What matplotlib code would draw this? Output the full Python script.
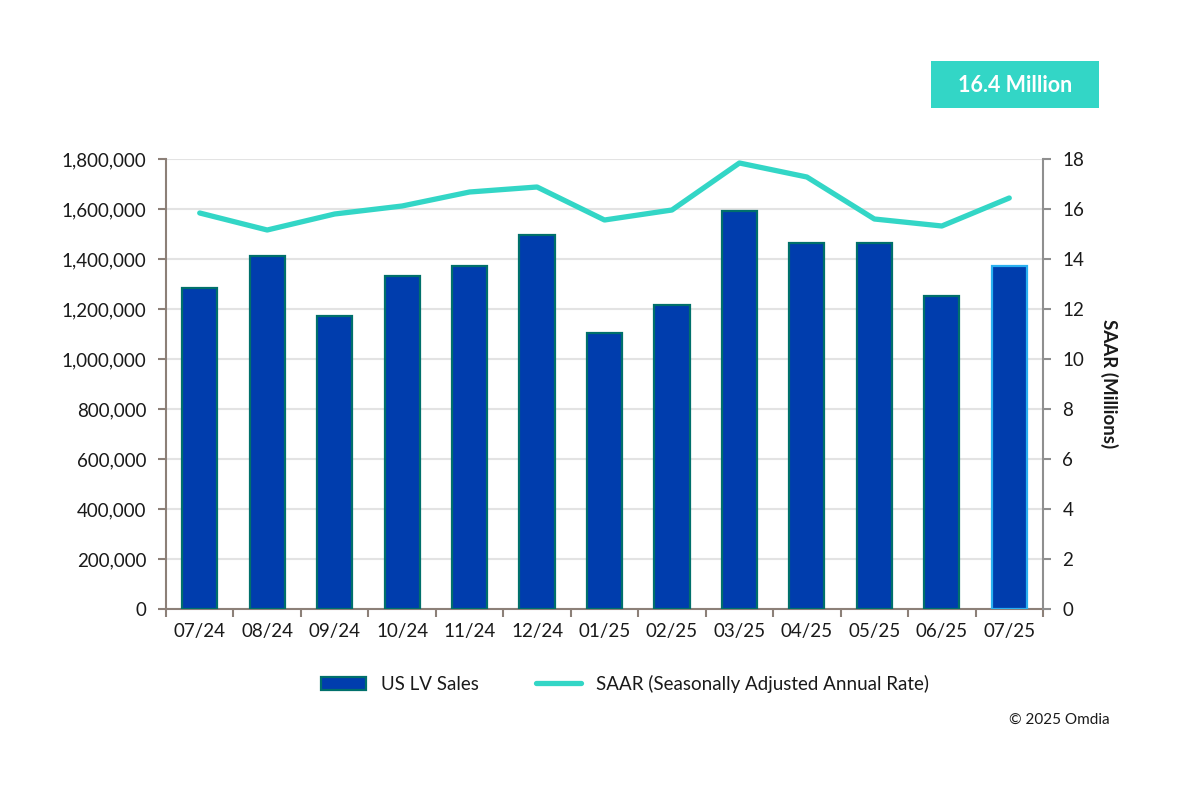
import matplotlib
matplotlib.use("Agg")
import matplotlib.pyplot as plt
from matplotlib.patches import Rectangle
from matplotlib.ticker import FuncFormatter, FixedLocator
import numpy as np

"""Chart data"""
months = ['07/24', '08/24', '09/24', '10/24', '11/24', '12/24', '01/25',
          '02/25', '03/25', '04/25', '05/25', '06/25', '07/25']
sales = [1284000, 1412000, 1172000, 1332000, 1372000, 1496000, 1104000,
         1216000, 1592000, 1464000, 1464000, 1252000, 1372000]
saar = [15.84, 15.16, 15.8, 16.12, 16.68, 16.88, 15.56,
        15.96, 17.84, 17.28, 15.6, 15.32, 16.44]
badge_text = '16.4 Million'

"""Style"""
plt.rcParams['font.family'] = ['Lato', 'DejaVu Sans']
BAR = '#003DAD'
EDGE = '#00706B'
LAST_EDGE = '#2AB0F0'
LINE = '#33D6C6'
SPINE = '#8C8078'
TXT = '#1a1a1a'
W, H = 1187, 798

fig = plt.figure(figsize=(W/100, H/100), dpi=100)
ax = fig.add_axes([166/W, 1-609/H, (1043-166)/W, (609-159)/H])
ax2 = ax.twinx()

x = np.arange(len(months))
edges = [EDGE]*(len(months)-1) + [LAST_EDGE]
ax.bar(x, sales, width=0.52, color=BAR, edgecolor=edges, linewidth=1.6, zorder=3,
       label='US LV Sales')
ax2.plot(x, saar, color=LINE, linewidth=3.8, solid_capstyle='round', zorder=4,
         label='SAAR (Seasonally Adjusted Annual Rate)')

ax.set_xlim(-0.5, len(months)-0.5)
ax.set_ylim(0, 1800000)
ax2.set_ylim(0, 18)
ax.set_yticks(np.arange(0, 1800001, 200000))
ax2.set_yticks(np.arange(0, 19, 2))
ax.yaxis.set_major_formatter(FuncFormatter(lambda v, p: f'{int(v):,}'))
ax.grid(axis='y', color='#E3E3E3', linewidth=1.5, zorder=0)
ax.set_axisbelow(True)

# category labels sit between the ticks
ax.set_xticks(x)
ax.set_xticklabels(months)
ax.xaxis.set_minor_locator(FixedLocator(np.arange(-0.5, len(months), 1)))
ax.tick_params(axis='x', which='major', length=0, pad=10, labelsize=13.5, labelcolor=TXT)
ax.tick_params(axis='x', which='minor', length=6, width=1.5, color=SPINE, direction='out')
ax.tick_params(axis='y', length=6, width=1.5, color=SPINE, labelsize=13.5, labelcolor=TXT, pad=8)
ax2.tick_params(axis='y', length=6, width=1.5, color='#8F8F8F', labelsize=13.5, labelcolor=TXT, pad=8)

for a in (ax, ax2):
    a.spines['top'].set_visible(False)
ax.spines['right'].set_visible(False)
ax.spines['left'].set_color(SPINE)
ax.spines['left'].set_linewidth(1.5)
ax.spines['bottom'].set_color(SPINE)
ax.spines['bottom'].set_linewidth(1.5)
ax2.spines['left'].set_visible(False)
ax2.spines['bottom'].set_visible(False)
ax2.spines['right'].set_color('#8F8F8F')
ax2.spines['right'].set_linewidth(1.5)

ax2.set_ylabel('SAAR (Millions)', rotation=270, fontsize=13.5, fontweight='bold',
               color=TXT, labelpad=24)

# legend
h1, l1 = ax.get_legend_handles_labels()
h2, l2 = ax2.get_legend_handles_labels()
fig.legend(h1+h2, l1+l2, loc='center', bbox_to_anchor=(625/W, 1-684/H), ncol=2,
           frameon=False, fontsize=13.5, handlelength=2.4, columnspacing=3.0,
           handletextpad=0.8, labelcolor=TXT)

# badge
fig.patches.append(Rectangle((931/W, 1-108/H), 168/W, 47/H, transform=fig.transFigure,
                             facecolor=LINE, edgecolor='none'))
fig.text(1015/W, 1-85/H, badge_text, ha='center', va='center', color='white',
         fontsize=15.5, fontweight='bold')

fig.text(1110/W, 1-720/H, '\u00a9 2025 Omdia', ha='right', va='center',
         fontsize=11, color=TXT)

fig.savefig('out.png', dpi=100)
